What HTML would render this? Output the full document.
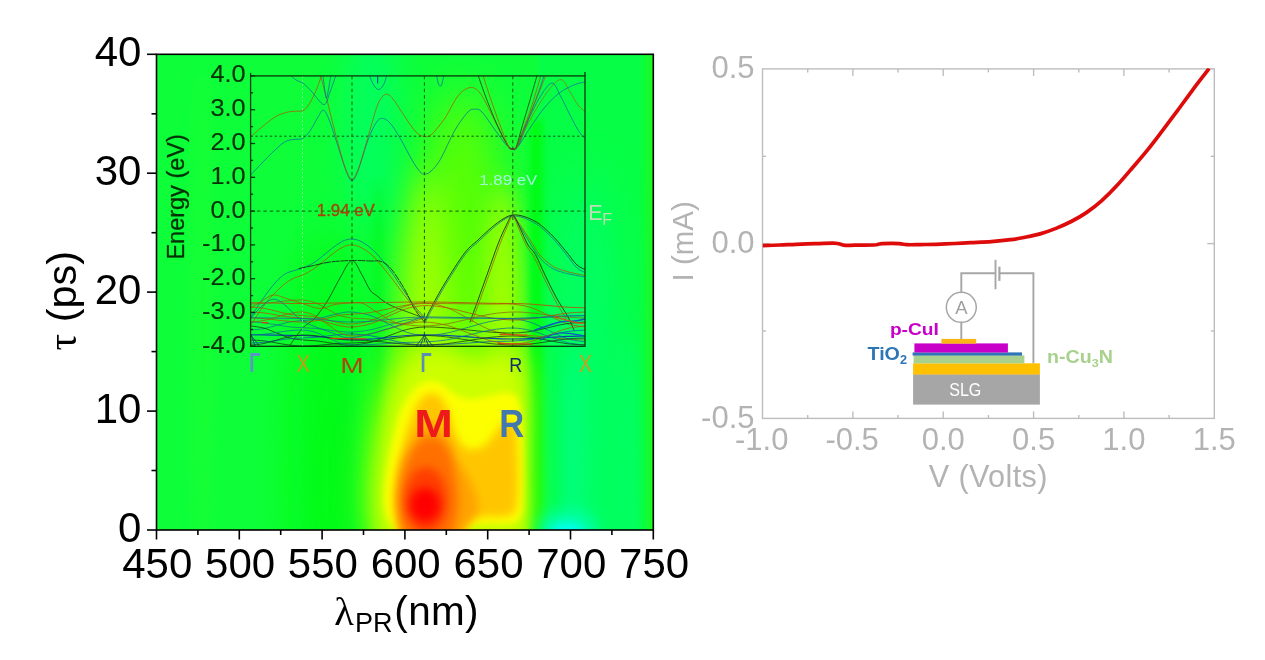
<!DOCTYPE html>
<html lang="en"><head><meta charset="utf-8"><title>Figure</title>
<style>
html,body{margin:0;padding:0;background:#fff;}
body{width:1265px;height:660px;overflow:hidden;}
svg{display:block;}
text{font-family:"Liberation Sans",sans-serif;}
.ser{font-family:"Liberation Serif",serif;}
</style></head><body>
<svg width="1265" height="660" viewBox="0 0 1265 660">

<defs>
<clipPath id="hc"><rect x="156.5" y="54.3" width="496.8" height="475.7"/></clipPath>
<filter id="b2" x="-100%" y="-100%" width="300%" height="300%"><feGaussianBlur stdDeviation="2"/></filter>
<filter id="b3" x="-100%" y="-100%" width="300%" height="300%"><feGaussianBlur stdDeviation="3"/></filter>
<filter id="b4" x="-100%" y="-100%" width="300%" height="300%"><feGaussianBlur stdDeviation="4"/></filter>
<filter id="b5" x="-100%" y="-100%" width="300%" height="300%"><feGaussianBlur stdDeviation="5"/></filter>
<filter id="b6" x="-100%" y="-100%" width="300%" height="300%"><feGaussianBlur stdDeviation="6"/></filter>
<filter id="b8" x="-100%" y="-100%" width="300%" height="300%"><feGaussianBlur stdDeviation="8"/></filter>
<filter id="b10" x="-100%" y="-100%" width="300%" height="300%"><feGaussianBlur stdDeviation="10"/></filter>
<filter id="b12" x="-100%" y="-100%" width="300%" height="300%"><feGaussianBlur stdDeviation="12"/></filter>
<filter id="b16" x="-100%" y="-100%" width="300%" height="300%"><feGaussianBlur stdDeviation="16"/></filter>
<filter id="b22" x="-100%" y="-100%" width="300%" height="300%"><feGaussianBlur stdDeviation="22"/></filter>
<filter id="b30" x="-100%" y="-100%" width="300%" height="300%"><feGaussianBlur stdDeviation="30"/></filter>
</defs>
<g clip-path="url(#hc)">
<rect x="150" y="50" width="510" height="485" fill="#0eff3a"/>
<ellipse cx="203" cy="330" rx="10" ry="260" fill="#1cff30" filter="url(#b8)" opacity="0.7"/>
<ellipse cx="326" cy="480" rx="34" ry="250" fill="#06fa0e" filter="url(#b22)" opacity="0.85"/>
<ellipse cx="462" cy="560" rx="66" ry="470" fill="#62ff04" filter="url(#b22)" opacity="0.92"/>
<ellipse cx="426" cy="540" rx="26" ry="370" fill="#b4ff00" filter="url(#b16)" opacity="0.95"/>
<ellipse cx="503" cy="540" rx="24" ry="360" fill="#acff00" filter="url(#b12)" opacity="0.95"/>
<ellipse cx="372" cy="120" rx="26" ry="110" fill="#00ff6c" filter="url(#b16)" opacity="0.75"/>
<rect x="538" y="40" width="130" height="500" fill="#06ff46"/>
<ellipse cx="586" cy="430" rx="34" ry="260" fill="#00ff6c" filter="url(#b22)" opacity="0.9"/>
<ellipse cx="574" cy="470" rx="9" ry="120" fill="#00ff84" filter="url(#b8)" opacity="0.8"/>
<ellipse cx="628" cy="470" rx="10" ry="140" fill="#00ff74" filter="url(#b10)" opacity="0.7"/>
<rect x="646" y="40" width="12" height="500" fill="#1cfa20" filter="url(#b4)"/>
<ellipse cx="346" cy="440" rx="6" ry="130" fill="#00f214" filter="url(#b6)" opacity="0.35"/>
<ellipse cx="378" cy="330" rx="6" ry="150" fill="#04f61a" filter="url(#b5)" opacity="0.7"/>
<rect x="530" y="120" width="13" height="420" fill="#00fc14" filter="url(#b3)"/>
<path d="M370.0 545.0C369.0 537.5 364.3 517.5 364.0 500.0C363.7 482.5 365.3 459.2 368.0 440.0C370.7 420.8 375.0 400.0 380.0 385.0C385.0 370.0 390.0 359.2 398.0 350.0C406.0 340.8 418.3 332.3 428.0 330.0C437.7 327.7 447.7 333.7 456.0 336.0C464.3 338.3 470.7 343.7 478.0 344.0C485.3 344.3 493.2 337.8 500.0 338.0C506.8 338.2 514.5 338.0 519.0 345.0C523.5 352.0 525.5 360.8 527.0 380.0C528.5 399.2 527.8 432.5 528.0 460.0C528.2 487.5 528.0 530.8 528.0 545.0Z" fill="#78ff00" filter="url(#b16)" opacity="0.85"/>
<path d="M378.0 545.0C377.3 537.5 374.0 515.8 374.0 500.0C374.0 484.2 375.7 466.7 378.0 450.0C380.3 433.3 384.0 414.0 388.0 400.0C392.0 386.0 395.3 375.0 402.0 366.0C408.7 357.0 419.2 348.3 428.0 346.0C436.8 343.7 446.7 349.7 455.0 352.0C463.3 354.3 470.5 360.0 478.0 360.0C485.5 360.0 493.3 352.3 500.0 352.0C506.7 351.7 513.7 351.7 518.0 358.0C522.3 364.3 524.5 373.0 526.0 390.0C527.5 407.0 526.8 434.2 527.0 460.0C527.2 485.8 527.0 530.8 527.0 545.0Z" fill="#ccff00" filter="url(#b10)"/>
<path d="M406.0 536.0C404.3 534.8 399.0 531.8 396.0 529.0C393.0 526.2 389.9 523.0 388.0 519.0C386.1 515.0 385.1 509.8 384.5 505.0C383.9 500.2 384.0 496.5 384.5 490.0C385.0 483.5 386.1 474.3 387.5 466.0C388.9 457.7 391.0 448.5 393.0 440.0C395.0 431.5 397.0 422.0 399.5 415.0C402.0 408.0 404.9 402.8 408.0 398.0C411.1 393.2 414.2 388.8 418.0 386.0C421.8 383.2 426.8 381.2 431.0 381.0C435.2 380.8 439.3 383.0 443.0 385.0C446.7 387.0 449.7 390.8 453.0 393.0C456.3 395.2 459.7 397.0 463.0 398.0C466.3 399.0 469.3 399.2 473.0 399.0C476.7 398.8 481.0 397.8 485.0 397.0C489.0 396.2 492.8 394.7 497.0 394.0C501.2 393.3 506.5 392.2 510.0 393.0C513.5 393.8 516.0 394.5 518.0 399.0C520.0 403.5 521.2 409.8 522.0 420.0C522.8 430.2 522.8 446.7 523.0 460.0C523.2 473.3 523.3 490.7 523.0 500.0C522.7 509.3 522.8 512.2 521.0 516.0C519.2 519.8 518.8 521.7 512.0 523.0C505.2 524.3 487.7 523.2 480.0 524.0C472.3 524.8 470.2 525.3 466.0 528.0C461.8 530.7 456.8 538.0 455.0 540.0Z" fill="#fcff00" filter="url(#b3)"/>
<path d="M402.0 540.0C401.0 536.7 397.3 526.7 396.0 520.0C394.7 513.3 393.8 508.3 394.0 500.0C394.2 491.7 395.3 480.0 397.0 470.0C398.7 460.0 401.5 449.2 404.0 440.0C406.5 430.8 409.3 421.7 412.0 415.0C414.7 408.3 416.8 403.7 420.0 400.0C423.2 396.3 427.3 393.2 431.0 393.0C434.7 392.8 438.8 395.3 442.0 399.0C445.2 402.7 447.7 409.0 450.0 415.0C452.3 421.0 453.3 429.5 456.0 435.0C458.7 440.5 462.0 445.8 466.0 448.0C470.0 450.2 476.0 449.3 480.0 448.0C484.0 446.7 486.8 443.3 490.0 440.0C493.2 436.7 496.0 431.3 499.0 428.0C502.0 424.7 505.3 420.5 508.0 420.0C510.7 419.5 513.5 420.8 515.0 425.0C516.5 429.2 516.5 435.8 517.0 445.0C517.5 454.2 518.2 469.5 518.0 480.0C517.8 490.5 517.7 502.0 516.0 508.0C514.3 514.0 513.7 514.5 508.0 516.0C502.3 517.5 488.7 516.0 482.0 517.0C475.3 518.0 472.0 518.2 468.0 522.0C464.0 525.8 459.7 537.0 458.0 540.0Z" fill="#ffc600" filter="url(#b4)"/>
<path d="M404.0 540.0C403.2 536.7 400.2 527.0 399.0 520.0C397.8 513.0 396.8 506.3 397.0 498.0C397.2 489.7 398.3 477.7 400.0 470.0C401.7 462.3 404.5 457.7 407.0 452.0C409.5 446.3 412.3 440.3 415.0 436.0C417.7 431.7 420.3 428.3 423.0 426.0C425.7 423.7 428.2 422.0 431.0 422.0C433.8 422.0 437.2 423.3 440.0 426.0C442.8 428.7 445.5 433.0 448.0 438.0C450.5 443.0 452.3 450.7 455.0 456.0C457.7 461.3 460.8 464.3 464.0 470.0C467.2 475.7 471.7 483.3 474.0 490.0C476.3 496.7 478.7 504.7 478.0 510.0C477.3 515.3 473.3 517.0 470.0 522.0C466.7 527.0 460.0 537.0 458.0 540.0Z" fill="#ffa200" filter="url(#b5)"/>
<path d="M406.0 540.0C405.2 536.3 402.0 525.0 401.0 518.0C400.0 511.0 399.5 505.7 400.0 498.0C400.5 490.3 402.2 479.7 404.0 472.0C405.8 464.3 408.3 457.2 411.0 452.0C413.7 446.8 416.7 443.5 420.0 441.0C423.3 438.5 427.2 436.8 431.0 437.0C434.8 437.2 439.7 438.8 443.0 442.0C446.3 445.2 448.8 449.7 451.0 456.0C453.2 462.3 454.8 471.8 456.0 480.0C457.2 488.2 458.2 497.7 458.0 505.0C457.8 512.3 456.3 518.2 455.0 524.0C453.7 529.8 450.8 537.3 450.0 540.0Z" fill="#ff7000" filter="url(#b5)"/>
<ellipse cx="426" cy="500" rx="21" ry="33" fill="#ff3c00" filter="url(#b5)"/>
<ellipse cx="425" cy="505" rx="15" ry="17" fill="#ff0600" filter="url(#b5)"/>
<ellipse cx="568" cy="532" rx="30" ry="22" fill="#00ffa8" filter="url(#b8)"/>
<ellipse cx="567" cy="532" rx="17" ry="9" fill="#00fff0" filter="url(#b5)"/>
</g>
<text x="414.3" y="436.8" font-size="38.8" font-weight="bold" fill="#ee1a1a" textLength="38.6" lengthAdjust="spacingAndGlyphs">M</text>
<text x="499.3" y="436.8" font-size="38.8" font-weight="bold" fill="#4377b0" textLength="25" lengthAdjust="spacingAndGlyphs">R</text>
<clipPath id="ic"><rect x="250.6" y="75.9" width="334.4" height="270.4"/></clipPath>
<g clip-path="url(#ic)" fill="none" stroke-width="0.75" stroke-linecap="round">
<path d="M251.0 174.6C252.8 172.7 258.0 167.1 262.0 163.0C266.0 158.9 271.1 153.6 275.0 150.0C278.9 146.4 282.2 143.3 285.5 141.5C288.8 139.7 292.2 139.8 295.0 139.3C297.8 138.8 300.0 139.9 302.5 138.5C305.0 137.1 307.4 134.6 310.0 131.0C312.6 127.4 315.8 120.5 318.0 117.0C320.2 113.5 321.3 110.3 323.0 110.3C324.7 110.3 325.8 112.0 328.0 117.0C330.2 122.0 333.2 131.5 336.0 140.0C338.8 148.5 342.8 161.7 345.0 168.0C347.2 174.3 348.0 175.9 349.2 178.0C350.4 180.1 351.1 180.8 352.0 180.8C352.9 180.8 353.6 180.1 354.8 178.0C356.0 175.9 356.8 174.3 359.0 168.0C361.2 161.7 365.2 147.5 368.0 140.0C370.8 132.5 373.7 126.6 376.0 123.0C378.3 119.4 379.7 118.3 382.0 118.3C384.3 118.3 387.0 119.7 390.0 123.0C393.0 126.3 396.3 131.8 400.0 138.0C403.7 144.2 408.7 154.4 412.0 160.0C415.3 165.6 417.9 169.5 420.0 171.8C422.1 174.1 422.7 174.0 424.4 174.0C426.1 174.0 427.4 174.3 430.0 172.0C432.6 169.7 435.8 167.0 440.0 160.0C444.2 153.0 450.3 138.0 455.0 130.0C459.7 122.0 464.7 115.5 468.0 112.0C471.3 108.5 472.5 109.2 474.8 109.2C477.1 109.2 478.6 108.5 482.0 112.0C485.4 115.5 491.2 124.8 495.0 130.0C498.8 135.2 502.6 140.5 505.0 143.5C507.4 146.5 508.2 146.9 509.5 147.8C510.8 148.7 511.7 149.0 512.8 149.0C513.9 149.0 514.8 149.1 516.1 147.8C517.4 146.5 518.2 146.5 520.5 141.0C522.8 135.5 526.8 123.8 530.0 115.0C533.2 106.2 537.5 95.2 540.0 88.0C542.5 80.8 544.2 74.7 545.0 72.0" stroke="#0a6c9c"/>
<path d="M251.0 136.5C252.8 134.9 258.0 130.2 262.0 127.0C266.0 123.8 271.1 119.4 275.0 117.0C278.9 114.6 282.2 113.6 285.5 112.6C288.8 111.6 292.2 111.5 295.0 111.2C297.8 110.9 300.3 111.7 302.5 110.8C304.7 109.9 306.1 108.6 308.0 106.0C309.9 103.4 312.0 99.3 314.0 95.0C316.0 90.7 318.7 84.2 320.0 80.0C321.3 75.8 321.7 71.7 322.0 70.0" stroke="#a45a08"/>
<path d="M319.0 70.0C320.2 74.3 323.5 86.3 326.0 96.0C328.5 105.7 331.2 117.2 334.0 128.0C336.8 138.8 340.6 153.1 343.0 161.0C345.4 168.9 347.1 172.5 348.6 175.6C350.1 178.7 350.9 179.3 352.0 179.3C353.1 179.3 353.9 178.7 355.4 175.6C356.9 172.5 358.6 168.6 361.0 161.0C363.4 153.4 367.2 139.5 370.0 130.0C372.8 120.5 375.4 109.9 378.0 104.0C380.6 98.1 383.0 95.2 385.5 94.4C388.0 93.6 389.8 95.2 393.0 99.0C396.2 102.8 401.2 111.5 405.0 117.0C408.8 122.5 412.8 128.8 416.0 132.0C419.2 135.2 421.7 136.2 424.4 136.5C427.1 136.8 428.6 137.1 432.0 134.0C435.4 130.9 440.7 124.3 445.0 118.0C449.3 111.7 453.8 101.1 458.0 96.0C462.2 90.9 466.3 88.1 470.0 87.6C473.7 87.1 476.3 88.4 480.0 93.0C483.7 97.6 488.2 107.7 492.0 115.0C495.8 122.3 500.2 131.7 503.0 137.0C505.8 142.3 507.2 144.6 508.8 146.6C510.4 148.6 511.5 149.0 512.8 149.0C514.1 149.0 515.3 149.3 516.8 146.6C518.3 143.9 519.5 139.9 522.0 133.0C524.5 126.1 528.7 115.2 532.0 105.0C535.3 94.8 540.3 77.5 542.0 72.0" stroke="#a45a08"/>
<path d="M287.0 72.0C288.5 73.3 293.2 78.1 296.0 80.0C298.8 81.9 300.9 81.5 303.6 83.5C306.3 85.5 308.6 88.5 312.0 92.0C315.4 95.5 321.0 104.6 324.0 104.6C327.0 104.6 327.8 97.4 330.0 92.0C332.2 86.6 335.8 75.3 337.0 72.0" stroke="#0a6c9c"/>
<path d="M322.5 72.0C322.9 75.3 324.4 87.7 325.0 92.0C325.6 96.3 325.9 98.0 326.4 98.0C326.9 98.0 327.1 96.3 328.0 92.0C328.9 87.7 330.9 75.3 331.5 72.0" stroke="#0a6c9c"/>
<path d="M368.5 72.0C369.2 74.0 371.3 81.1 373.0 84.0C374.7 86.9 376.8 89.6 378.6 89.6C380.4 89.6 382.5 86.9 384.0 84.0C385.5 81.1 386.9 74.0 387.5 72.0" stroke="#0a6c9c"/>
<path d="M377.6 76.0C377.6 77.2 377.6 81.8 377.6 83.0" stroke="#0858a8" stroke-width="1.2"/>
<path d="M436.0 72.0C436.4 74.0 437.6 81.8 438.5 84.0C439.4 86.2 440.5 87.0 441.5 85.0C442.5 83.0 444.0 74.2 444.5 72.0" stroke="#0a6c9c"/>
<path d="M509.0 148.2C509.6 148.4 511.5 149.6 512.8 149.4C514.1 149.2 515.0 150.7 517.0 147.0C519.0 143.3 521.2 135.3 525.0 127.0C528.8 118.7 535.5 104.3 540.0 97.0C544.5 89.7 548.7 83.3 552.0 83.0C555.3 82.7 557.0 89.7 560.0 95.0C563.0 100.3 567.0 109.2 570.0 115.0C573.0 120.8 575.5 126.0 578.0 130.0C580.5 133.9 583.8 137.2 585.0 138.7" stroke="#0a6c9c"/>
<path d="M509.0 148.2C509.6 148.4 511.4 149.8 512.8 149.4C514.2 149.0 514.6 150.9 517.5 146.0C520.4 141.1 524.9 129.2 530.0 120.0C535.1 110.8 542.8 97.7 548.0 91.0C553.2 84.3 557.3 79.4 561.0 79.6C564.7 79.8 567.2 87.8 570.0 92.0C572.8 96.2 575.5 101.8 578.0 105.0C580.5 108.2 583.8 110.4 585.0 111.5" stroke="#8a7a10"/>
<path d="M509.0 148.2C509.6 148.4 511.3 149.7 512.8 149.4C514.3 149.1 515.1 150.1 518.0 146.5C520.9 142.9 525.5 134.6 530.0 128.0C534.5 121.4 540.0 112.9 545.0 107.0C550.0 101.1 555.0 96.2 560.0 92.5C565.0 88.8 570.8 86.2 575.0 84.5C579.2 82.8 583.3 82.4 585.0 82.0" stroke="#0a6c9c"/>
<path d="M477.0 72.0C478.3 75.8 482.0 87.0 485.0 95.0C488.0 103.0 491.7 112.3 495.0 120.0C498.3 127.7 502.6 136.4 505.0 141.0C507.4 145.6 508.3 146.2 509.6 147.6C510.9 149.0 511.7 149.2 512.8 149.2C513.9 149.2 514.5 151.3 516.0 147.6C517.5 143.9 519.7 134.9 522.0 127.0C524.3 119.1 527.3 109.2 530.0 100.0C532.7 90.8 536.7 76.7 538.0 72.0" stroke="#143414"/>
<path d="M482.0 72.0C483.3 76.2 487.0 88.2 490.0 97.0C493.0 105.8 496.9 116.8 500.0 125.0C503.1 133.2 506.5 142.4 508.6 146.4C510.7 150.4 511.4 149.2 512.8 149.2C514.2 149.2 515.1 149.9 517.0 146.4C518.9 142.9 520.8 135.7 524.0 128.0C527.2 120.3 532.2 109.3 536.0 100.0C539.8 90.7 545.2 76.7 547.0 72.0" stroke="#a45a08"/>
<path d="M251.0 317.0C252.8 314.2 258.0 305.7 262.0 300.0C266.0 294.3 271.2 287.3 275.0 283.0C278.8 278.7 281.8 276.1 285.0 274.0C288.2 271.9 291.6 271.5 294.5 270.5C297.4 269.5 299.3 269.4 302.7 268.0C306.1 266.6 310.4 265.0 315.0 262.0C319.6 259.0 325.5 253.4 330.0 250.0C334.5 246.6 338.4 243.3 342.0 241.5C345.6 239.7 348.5 238.9 351.8 239.0C355.1 239.1 358.1 239.8 362.0 242.0C365.9 244.2 370.3 247.3 375.0 252.0C379.7 256.7 385.5 264.0 390.0 270.0C394.5 276.0 397.9 282.0 402.0 288.0C406.1 294.0 410.8 301.2 414.5 306.0C418.2 310.8 422.8 315.2 424.4 317.0" stroke="#0a6c9c"/>
<path d="M251.0 325.0C253.3 321.5 260.2 310.2 265.0 304.0C269.8 297.8 275.5 292.2 280.0 288.0C284.5 283.8 288.2 281.2 292.0 279.0C295.8 276.8 298.9 276.8 302.7 275.0C306.5 273.2 310.4 271.2 315.0 268.0C319.6 264.8 325.5 259.4 330.0 256.0C334.5 252.6 338.4 249.3 342.0 247.5C345.6 245.7 348.5 244.9 351.8 245.0C355.1 245.1 358.1 245.8 362.0 248.0C365.9 250.2 370.3 253.3 375.0 258.0C379.7 262.7 385.0 269.7 390.0 276.0C395.0 282.3 400.3 290.0 405.0 296.0C409.7 302.0 414.8 308.3 418.0 312.0C421.2 315.7 423.3 317.0 424.4 318.0" stroke="#a45a08"/>
<path d="M299.0 268.5C301.4 268.0 308.4 266.6 313.6 265.5C318.8 264.4 323.6 262.8 330.0 262.0C336.4 261.2 345.1 260.7 351.8 260.5C358.5 260.3 365.0 260.8 370.0 261.0C375.0 261.2 378.1 260.1 381.8 261.6C385.5 263.1 388.1 265.3 392.0 270.0C395.9 274.7 401.2 283.5 405.0 290.0C408.8 296.5 411.3 303.7 414.5 309.0C417.7 314.3 422.8 319.8 424.4 322.0" stroke="#143414" stroke-width="0.9" stroke-dasharray="7 1.5"/>
<path d="M290.0 345.0C292.1 342.2 298.5 332.5 302.7 328.0C306.9 323.5 310.8 322.7 315.0 318.0C319.2 313.3 323.8 306.7 328.0 300.0C332.2 293.3 336.0 284.6 340.0 278.0C344.0 271.4 348.1 261.0 351.8 260.5C355.5 260.0 359.0 270.1 362.0 275.0C365.0 279.9 367.6 286.6 370.0 290.0C372.4 293.4 373.1 293.0 376.4 295.5C379.7 298.0 383.6 301.8 390.0 305.0C396.4 308.2 408.8 312.3 414.5 314.5C420.2 316.7 422.8 317.4 424.4 318.0" stroke="#143414"/>
<path d="M424.4 322.0C425.4 319.8 427.1 315.5 430.5 309.0C433.9 302.5 439.3 292.3 445.0 283.0C450.7 273.7 459.0 260.4 464.5 253.2C470.0 246.0 473.4 244.3 478.0 240.0C482.6 235.7 487.6 230.8 491.8 227.3C496.0 223.8 499.5 221.1 503.0 219.0C506.5 216.9 509.3 215.4 512.8 215.0C516.3 214.6 520.0 215.3 524.0 216.5C528.0 217.7 532.9 220.0 536.6 222.2C540.3 224.4 543.0 226.9 546.0 229.5C549.0 232.1 551.8 235.0 554.5 237.8C557.2 240.6 559.7 243.7 562.0 246.5C564.3 249.3 566.0 251.4 568.5 254.5C571.0 257.6 574.2 262.5 577.0 265.0C579.8 267.5 583.7 268.8 585.0 269.5" stroke="#143414" stroke-width="0.9"/>
<path d="M424.4 324.0C425.6 321.7 427.9 316.7 431.5 310.0C435.1 303.3 440.3 293.3 446.0 284.0C451.7 274.7 460.0 261.4 465.5 254.2C471.0 247.0 474.4 245.3 479.0 241.0C483.6 236.7 488.7 231.8 492.8 228.3C496.9 224.8 500.2 222.1 503.5 220.0C506.8 217.9 509.4 216.3 512.8 216.0C516.2 215.7 520.0 216.6 524.0 218.0C528.0 219.4 532.9 221.9 536.6 224.2C540.3 226.5 543.0 229.1 546.0 231.8C549.0 234.5 551.8 237.4 554.5 240.3C557.2 243.2 559.7 246.3 562.0 249.2C564.3 252.0 566.0 254.3 568.5 257.4C571.0 260.5 574.2 265.5 577.0 268.0C579.8 270.5 583.7 271.8 585.0 272.5" stroke="#0a6c9c"/>
<path d="M512.8 215.0C514.2 216.8 518.1 221.8 521.0 226.0C523.9 230.2 526.8 235.2 530.0 240.0C533.2 244.8 536.4 250.8 540.0 255.0C543.6 259.2 547.6 262.8 551.8 265.5C556.0 268.2 559.5 269.3 565.0 271.0C570.5 272.7 581.7 274.8 585.0 275.5" stroke="#a45a08"/>
<path d="M512.8 215.5C514.2 217.6 518.1 223.4 521.0 228.0C523.9 232.6 526.8 238.0 530.0 243.0C533.2 248.0 536.4 253.8 540.0 258.0C543.6 262.2 547.6 265.5 551.8 268.0C556.0 270.5 559.5 271.5 565.0 273.0C570.5 274.5 581.7 276.3 585.0 277.0" stroke="#0a6c9c"/>
<path d="M470.0 322.0C471.3 318.3 475.0 308.3 478.0 300.0C481.0 291.7 484.7 281.3 488.0 272.0C491.3 262.7 495.0 251.7 498.0 244.0C501.0 236.3 503.5 230.8 506.0 226.0C508.5 221.2 510.5 214.7 512.8 215.0C515.1 215.3 517.5 223.0 520.0 228.0C522.5 233.0 525.4 240.6 528.0 245.0C530.6 249.4 532.6 249.5 535.4 254.5C538.2 259.5 541.6 267.9 545.0 275.0C548.4 282.1 552.2 290.0 556.0 297.0C559.8 304.0 565.0 311.5 568.0 317.0C571.0 322.5 573.0 327.8 574.0 330.0" stroke="#143414" stroke-width="0.9"/>
<path d="M472.0 322.0C473.3 318.3 477.0 308.3 480.0 300.0C483.0 291.7 486.7 281.3 490.0 272.0C493.3 262.7 497.1 251.7 500.0 244.0C502.9 236.3 505.4 230.7 507.5 226.0C509.6 221.3 511.0 215.7 512.8 216.0C514.6 216.3 516.2 223.0 518.5 228.0C520.8 233.0 523.9 241.2 526.5 246.0C529.1 250.8 531.2 251.8 534.0 257.0C536.8 262.2 540.1 270.0 543.5 277.0C546.9 284.0 550.8 292.0 554.5 299.0C558.2 306.0 564.1 315.7 566.0 319.0" stroke="#a45a08"/>
<path d="M251.0 302.8C253.1 302.8 259.6 302.8 263.9 302.9C268.2 303.0 272.5 303.1 276.8 303.1C281.0 303.2 285.3 303.3 289.6 303.4C293.9 303.5 298.3 303.5 302.5 303.5C306.7 303.5 310.8 303.5 314.9 303.4C319.0 303.3 323.1 303.2 327.2 303.2C331.4 303.1 335.5 303.0 339.6 302.9C343.8 302.8 346.9 302.8 352.0 302.8C357.1 302.8 364.1 302.7 370.1 302.7C376.1 302.6 382.2 302.5 388.2 302.4C394.2 302.3 400.3 302.2 406.3 302.1C412.3 302.1 417.7 302.0 424.4 302.0C431.1 302.0 439.1 302.1 446.5 302.2C453.9 302.3 461.2 302.6 468.6 302.8C476.0 302.9 483.3 303.2 490.7 303.3C498.1 303.4 506.1 303.4 512.8 303.5C519.5 303.6 524.8 303.8 530.8 304.1C536.9 304.5 542.9 305.1 548.9 305.6C554.9 306.2 560.9 306.8 567.0 307.2C573.0 307.5 582.0 307.7 585.0 307.8" stroke="#b4520c" stroke-width="0.9"/>
<path d="M251.0 307.0C253.1 307.2 259.6 307.5 263.9 308.3C268.2 309.0 272.5 310.3 276.8 311.3C281.0 312.3 285.3 313.6 289.6 314.3C293.9 315.1 298.3 315.2 302.5 315.6C306.7 316.0 310.8 316.1 314.9 316.8C319.0 317.5 323.1 318.8 327.2 319.8C331.4 320.8 335.5 322.1 339.6 322.8C343.8 323.5 346.9 324.3 352.0 324.0C357.1 323.7 364.1 322.7 370.1 320.9C376.1 319.1 382.2 315.9 388.2 313.4C394.2 310.9 400.3 307.7 406.3 305.9C412.3 304.1 417.7 302.5 424.4 302.8C431.1 303.1 439.1 304.8 446.5 307.5C453.9 310.2 461.2 315.0 468.6 318.8C476.0 322.6 483.3 327.4 490.7 330.1C498.1 332.8 506.1 333.9 512.8 334.8C519.5 335.7 524.8 335.1 530.8 335.6C536.9 336.0 542.9 336.8 548.9 337.4C554.9 338.0 560.9 338.8 567.0 339.2C573.0 339.7 582.0 339.9 585.0 340.0" stroke="#a45a08"/>
<path d="M251.0 330.0C253.1 329.8 259.6 329.4 263.9 328.6C268.2 327.8 272.5 326.4 276.8 325.3C281.0 324.2 285.3 322.8 289.6 322.0C293.9 321.2 298.3 321.0 302.5 320.6C306.7 320.2 310.8 320.1 314.9 319.3C319.0 318.6 323.1 317.3 327.2 316.3C331.4 315.3 335.5 314.0 339.6 313.3C343.8 312.5 346.9 311.6 352.0 312.0C357.1 312.4 364.1 313.5 370.1 315.4C376.1 317.4 382.2 321.0 388.2 323.8C394.2 326.5 400.3 330.1 406.3 332.1C412.3 334.0 417.7 335.3 424.4 335.5C431.1 335.7 439.1 334.5 446.5 333.1C453.9 331.7 461.2 329.2 468.6 327.2C476.0 325.3 483.3 322.8 490.7 321.4C498.1 320.0 506.1 318.8 512.8 319.0C519.5 319.2 524.8 320.5 530.8 322.4C536.9 324.3 542.9 327.8 548.9 330.5C554.9 333.2 560.9 336.7 567.0 338.6C573.0 340.5 582.0 341.4 585.0 342.0" stroke="#0a6c9c"/>
<path d="M251.0 318.0C253.1 318.1 259.6 318.3 263.9 318.6C268.2 318.9 272.5 319.5 276.8 320.0C281.0 320.5 285.3 321.1 289.6 321.4C293.9 321.7 298.3 322.1 302.5 322.0C306.7 321.9 310.8 321.5 314.9 320.9C319.0 320.2 323.1 319.0 327.2 318.1C331.4 317.2 335.5 316.0 339.6 315.3C343.8 314.7 346.9 314.7 352.0 314.2C357.1 313.7 364.1 313.5 370.1 312.6C376.1 311.7 382.2 310.1 388.2 308.9C394.2 307.6 400.3 306.0 406.3 305.1C412.3 304.2 417.7 303.7 424.4 303.5C431.1 303.3 439.1 303.5 446.5 303.6C453.9 303.7 461.2 303.8 468.6 303.8C476.0 303.9 483.3 304.0 490.7 304.1C498.1 304.2 506.1 303.6 512.8 304.2C519.5 304.8 524.8 305.6 530.8 307.5C536.9 309.4 542.9 312.9 548.9 315.6C554.9 318.3 560.9 321.8 567.0 323.7C573.0 325.6 582.0 326.4 585.0 327.0" stroke="#a45a08"/>
<path d="M251.0 312.0C253.1 312.1 259.6 312.4 263.9 312.9C268.2 313.4 272.5 314.3 276.8 315.0C281.0 315.7 285.3 316.6 289.6 317.1C293.9 317.6 298.3 317.6 302.5 318.0C306.7 318.4 310.8 318.6 314.9 319.3C319.0 320.1 323.1 321.4 327.2 322.5C331.4 323.6 335.5 324.9 339.6 325.7C343.8 326.4 346.9 327.3 352.0 327.0C357.1 326.7 364.1 325.6 370.1 323.9C376.1 322.1 382.2 318.8 388.2 316.3C394.2 313.8 400.3 310.5 406.3 308.7C412.3 307.0 417.7 305.8 424.4 305.6C431.1 305.4 439.1 306.5 446.5 307.7C453.9 308.9 461.2 311.1 468.6 312.8C476.0 314.5 483.3 316.7 490.7 317.9C498.1 319.1 506.1 319.8 512.8 320.0C519.5 320.2 524.8 319.5 530.8 318.8C536.9 318.2 542.9 316.9 548.9 316.0C554.9 315.1 560.9 313.8 567.0 313.2C573.0 312.5 582.0 312.2 585.0 312.0" stroke="#b8480c"/>
<path d="M251.0 334.8C253.1 334.8 259.6 334.8 263.9 334.9C268.2 335.0 272.5 335.1 276.8 335.1C281.0 335.2 285.3 335.3 289.6 335.4C293.9 335.5 298.3 335.4 302.5 335.5C306.7 335.6 310.8 335.8 314.9 336.1C319.0 336.5 323.1 337.1 327.2 337.6C331.4 338.2 335.5 338.8 339.6 339.2C343.8 339.5 346.9 339.8 352.0 339.8C357.1 339.8 364.1 339.5 370.1 339.1C376.1 338.7 382.2 337.9 388.2 337.3C394.2 336.7 400.3 335.9 406.3 335.5C412.3 335.1 417.7 334.8 424.4 334.8C431.1 334.8 439.1 335.1 446.5 335.4C453.9 335.8 461.2 336.4 468.6 336.9C476.0 337.4 483.3 338.0 490.7 338.4C498.1 338.7 506.1 339.0 512.8 339.0C519.5 339.0 524.8 338.8 530.8 338.6C536.9 338.3 542.9 337.9 548.9 337.5C554.9 337.1 560.9 336.7 567.0 336.4C573.0 336.2 582.0 336.1 585.0 336.0" stroke="#0a4aa8" stroke-width="1.1"/>
<path d="M251.0 322.0C253.1 322.1 259.6 322.4 263.9 322.8C268.2 323.3 272.5 324.2 276.8 324.8C281.0 325.5 285.3 326.4 289.6 326.9C293.9 327.3 298.3 327.5 302.5 327.7C306.7 327.9 310.8 328.0 314.9 328.3C319.0 328.7 323.1 329.3 327.2 329.8C331.4 330.4 335.5 331.0 339.6 331.4C343.8 331.7 346.9 332.2 352.0 332.0C357.1 331.8 364.1 331.1 370.1 329.9C376.1 328.8 382.2 326.6 388.2 325.0C394.2 323.4 400.3 321.2 406.3 320.1C412.3 318.9 417.7 318.3 424.4 318.0C431.1 317.7 439.1 318.0 446.5 318.1C453.9 318.1 461.2 318.2 468.6 318.2C476.0 318.2 483.3 318.3 490.7 318.3C498.1 318.4 506.1 318.5 512.8 318.4C519.5 318.3 524.8 318.2 530.8 318.0C536.9 317.8 542.9 317.3 548.9 317.0C554.9 316.7 560.9 316.2 567.0 316.0C573.0 315.8 582.0 315.7 585.0 315.6" stroke="#0a7a8c"/>
<path d="M251.0 317.7C253.1 317.7 259.6 317.8 263.9 317.8C268.2 317.9 272.5 318.0 276.8 318.1C281.0 318.2 285.3 318.3 289.6 318.4C293.9 318.4 298.3 318.4 302.5 318.5C306.7 318.6 310.8 318.7 314.9 319.0C319.0 319.3 323.1 319.8 327.2 320.2C331.4 320.7 335.5 321.2 339.6 321.5C343.8 321.8 346.9 322.0 352.0 322.0C357.1 322.0 364.1 321.7 370.1 321.3C376.1 320.9 382.2 320.1 388.2 319.5C394.2 318.9 400.3 318.1 406.3 317.7C412.3 317.3 417.7 317.1 424.4 317.0C431.1 316.9 439.1 317.1 446.5 317.2C453.9 317.3 461.2 317.5 468.6 317.7C476.0 317.9 483.3 318.1 490.7 318.2C498.1 318.3 506.1 318.4 512.8 318.4C519.5 318.4 524.8 318.2 530.8 318.0C536.9 317.8 542.9 317.3 548.9 317.0C554.9 316.7 560.9 316.2 567.0 316.0C573.0 315.8 582.0 315.7 585.0 315.6" stroke="#0a6c9c"/>
<path d="M251.0 340.0C253.1 340.1 259.6 340.4 263.9 340.9C268.2 341.4 272.5 342.3 276.8 343.0C281.0 343.7 285.3 344.6 289.6 345.1C293.9 345.6 298.3 345.9 302.5 346.0C306.7 346.1 310.8 345.8 314.9 345.6C319.0 345.3 323.1 344.9 327.2 344.5C331.4 344.1 335.5 343.7 339.6 343.4C343.8 343.2 346.9 343.3 352.0 343.0C357.1 342.7 364.1 342.5 370.1 341.9C376.1 341.3 382.2 340.1 388.2 339.2C394.2 338.4 400.3 337.2 406.3 336.6C412.3 336.0 417.7 335.5 424.4 335.5C431.1 335.5 439.1 336.1 446.5 336.9C453.9 337.7 461.2 339.1 468.6 340.2C476.0 341.4 483.3 342.8 490.7 343.6C498.1 344.4 506.1 344.9 512.8 345.0C519.5 345.1 524.8 344.6 530.8 344.0C536.9 343.4 542.9 342.3 548.9 341.5C554.9 340.7 560.9 339.6 567.0 339.0C573.0 338.4 582.0 338.2 585.0 338.0" stroke="#143414"/>
<path d="M251.0 326.0C253.1 326.3 259.6 326.9 263.9 328.1C268.2 329.2 272.5 331.4 276.8 333.0C281.0 334.6 285.3 336.8 289.6 337.9C293.9 339.1 298.3 339.5 302.5 340.0C306.7 340.5 310.8 340.3 314.9 340.7C319.0 341.1 323.1 341.9 327.2 342.5C331.4 343.1 335.5 343.9 339.6 344.3C343.8 344.7 346.9 345.3 352.0 345.0C357.1 344.7 364.1 343.9 370.1 342.4C376.1 340.9 382.2 338.1 388.2 336.0C394.2 333.9 400.3 331.1 406.3 329.6C412.3 328.1 417.7 327.3 424.4 327.0C431.1 326.7 439.1 327.4 446.5 327.9C453.9 328.4 461.2 329.3 468.6 330.0C476.0 330.7 483.3 331.6 490.7 332.1C498.1 332.6 506.1 333.1 512.8 333.0C519.5 332.9 524.8 332.3 530.8 331.4C536.9 330.5 542.9 328.8 548.9 327.5C554.9 326.2 560.9 324.5 567.0 323.6C573.0 322.7 582.0 322.3 585.0 322.0" stroke="#143414"/>
<path d="M251.0 335.0C253.1 334.9 259.6 334.7 263.9 334.3C268.2 333.9 272.5 333.1 276.8 332.5C281.0 331.9 285.3 331.1 289.6 330.7C293.9 330.3 298.3 329.8 302.5 330.0C306.7 330.2 310.8 330.9 314.9 332.2C319.0 333.4 323.1 335.7 327.2 337.5C331.4 339.3 335.5 341.6 339.6 342.8C343.8 344.1 346.9 344.7 352.0 345.0C357.1 345.3 364.1 344.8 370.1 344.6C376.1 344.3 382.2 343.9 388.2 343.5C394.2 343.1 400.3 342.7 406.3 342.4C412.3 342.2 417.7 342.4 424.4 342.0C431.1 341.6 439.1 341.1 446.5 339.9C453.9 338.8 461.2 336.6 468.6 335.0C476.0 333.4 483.3 331.2 490.7 330.1C498.1 328.9 506.1 327.9 512.8 328.0C519.5 328.1 524.8 329.1 530.8 330.5C536.9 331.9 542.9 334.5 548.9 336.5C554.9 338.5 560.9 341.1 567.0 342.5C573.0 343.9 582.0 344.6 585.0 345.0" stroke="#0a6c9c"/>
<path d="M251.0 343.0C253.1 342.9 259.6 342.7 263.9 342.3C268.2 341.9 272.5 341.1 276.8 340.5C281.0 339.9 285.3 339.1 289.6 338.7C293.9 338.3 298.3 338.2 302.5 338.0C306.7 337.8 310.8 337.7 314.9 337.4C319.0 337.1 323.1 336.5 327.2 336.0C331.4 335.5 335.5 334.9 339.6 334.6C343.8 334.3 346.9 333.8 352.0 334.0C357.1 334.2 364.1 334.7 370.1 335.6C376.1 336.5 382.2 338.2 388.2 339.5C394.2 340.8 400.3 342.5 406.3 343.4C412.3 344.3 417.7 344.8 424.4 345.0C431.1 345.2 439.1 344.7 446.5 344.4C453.9 344.1 461.2 343.5 468.6 343.0C476.0 342.5 483.3 341.9 490.7 341.6C498.1 341.3 506.1 341.4 512.8 341.0C519.5 340.6 524.8 340.3 530.8 339.4C536.9 338.5 542.9 336.8 548.9 335.5C554.9 334.2 560.9 332.5 567.0 331.6C573.0 330.7 582.0 330.3 585.0 330.0" stroke="#0a58b0"/>
<path d="M251.0 322.0C253.1 321.8 259.6 321.4 263.9 320.5C268.2 319.7 272.5 318.2 276.8 317.0C281.0 315.8 285.3 314.3 289.6 313.5C293.9 312.6 298.3 311.7 302.5 312.0C306.7 312.3 310.8 313.5 314.9 315.5C319.0 317.5 323.1 321.2 327.2 324.0C331.4 326.8 335.5 330.5 339.6 332.5C343.8 334.5 346.9 335.8 352.0 336.0C357.1 336.2 364.1 335.1 370.1 333.9C376.1 332.8 382.2 330.6 388.2 329.0C394.2 327.4 400.3 325.2 406.3 324.1C412.3 322.9 417.7 321.8 424.4 322.0C431.1 322.2 439.1 323.4 446.5 325.2C453.9 327.1 461.2 330.4 468.6 333.0C476.0 335.6 483.3 338.9 490.7 340.8C498.1 342.6 506.1 343.9 512.8 344.0C519.5 344.1 524.8 342.9 530.8 341.4C536.9 339.9 542.9 337.1 548.9 335.0C554.9 332.9 560.9 330.1 567.0 328.6C573.0 327.1 582.0 326.4 585.0 326.0" stroke="#a45a08"/>
<path d="M251.0 345.0C253.1 344.8 259.6 344.4 263.9 343.5C268.2 342.7 272.5 341.2 276.8 340.0C281.0 338.8 285.3 337.3 289.6 336.5C293.9 335.6 298.3 335.1 302.5 335.0C306.7 334.9 310.8 335.3 314.9 335.7C319.0 336.1 323.1 336.9 327.2 337.5C331.4 338.1 335.5 338.9 339.6 339.3C343.8 339.7 346.9 339.8 352.0 340.0C357.1 340.2 364.1 340.3 370.1 340.7C376.1 341.1 382.2 341.9 388.2 342.5C394.2 343.1 400.3 343.9 406.3 344.3C412.3 344.7 417.7 345.1 424.4 345.0C431.1 344.9 439.1 344.4 446.5 343.7C453.9 342.9 461.2 341.6 468.6 340.5C476.0 339.4 483.3 338.1 490.7 337.3C498.1 336.6 506.1 336.0 512.8 336.0C519.5 336.0 524.8 336.6 530.8 337.3C536.9 338.1 542.9 339.4 548.9 340.5C554.9 341.6 560.9 342.9 567.0 343.7C573.0 344.4 582.0 344.8 585.0 345.0" stroke="#143414"/>
<path d="M251.0 304.0C253.1 303.9 259.6 303.7 263.9 303.4C268.2 303.1 272.5 302.5 276.8 302.0C281.0 301.5 285.3 300.9 289.6 300.6C293.9 300.3 298.3 299.7 302.5 300.0C306.7 300.3 310.8 301.1 314.9 302.6C319.0 304.1 323.1 306.9 327.2 309.0C331.4 311.1 335.5 313.9 339.6 315.4C343.8 316.9 346.9 317.4 352.0 318.0C357.1 318.6 364.1 318.5 370.1 319.2C376.1 319.8 382.2 321.1 388.2 322.0C394.2 322.9 400.3 324.2 406.3 324.8C412.3 325.5 417.7 326.1 424.4 326.0C431.1 325.9 439.1 325.1 446.5 323.9C453.9 322.8 461.2 320.6 468.6 319.0C476.0 317.4 483.3 315.2 490.7 314.1C498.1 312.9 506.1 312.2 512.8 312.0C519.5 311.8 524.8 312.4 530.8 312.9C536.9 313.4 542.9 314.3 548.9 315.0C554.9 315.7 560.9 316.6 567.0 317.1C573.0 317.6 582.0 317.9 585.0 318.0" stroke="#8a6a10"/>
<path d="M251.0 317.7C252.8 315.8 258.3 309.1 262.0 306.0C265.7 302.9 269.6 299.4 273.4 299.2C277.2 299.0 280.2 301.4 285.0 305.0C289.8 308.6 294.5 316.1 302.0 320.6C309.5 325.1 321.7 329.2 330.0 332.0C338.3 334.8 342.0 338.3 352.0 337.6C362.0 336.9 377.9 331.6 390.0 328.0C402.1 324.4 418.7 318.2 424.4 316.3" stroke="#0a6c9c"/>
<path d="M251.0 308.0C252.8 306.8 258.3 303.2 262.0 301.0C265.7 298.8 269.1 295.3 273.4 295.0C277.7 294.7 283.1 297.6 288.0 299.0C292.9 300.4 297.2 301.9 302.5 303.5C307.8 305.1 314.6 308.3 320.0 308.5C325.4 308.7 329.7 305.4 335.0 304.5C340.3 303.6 347.3 303.0 352.0 302.8C356.7 302.6 359.2 302.0 363.0 303.4C366.8 304.8 370.2 308.1 375.0 311.0C379.8 313.9 387.0 318.9 392.0 321.0C397.0 323.1 399.6 323.9 405.0 323.4C410.4 322.9 421.2 318.9 424.4 318.0" stroke="#a45a08"/>
<path d="M330.0 338.4C336.0 338.5 360.0 338.7 366.0 338.8" stroke="#d04010" stroke-width="1.2"/>
<path d="M500.0 334.6C504.5 334.7 522.5 334.9 527.0 335.0" stroke="#d84810" stroke-width="1.2"/>
<path d="M498.0 343.6C503.7 343.7 526.3 344.1 532.0 344.2" stroke="#c84010" stroke-width="1.2"/>
<path d="M535.0 330.0C539.2 328.7 553.3 323.5 560.0 322.0C566.7 320.5 570.8 321.5 575.0 321.0C579.2 320.5 583.3 319.3 585.0 319.0" stroke="#0a58c0" stroke-width="1.4"/>
<path d="M540.0 340.0C543.3 338.8 552.5 333.7 560.0 333.0C567.5 332.3 580.8 335.5 585.0 336.0" stroke="#0a58c0" stroke-width="1.2"/>
<path d="M262.0 322.6C263.0 322.6 267.0 322.8 268.0 322.8" stroke="#d04010" stroke-width="1.2"/>
<path d="M555.0 317.0C558.3 317.9 570.0 321.5 575.0 322.5C580.0 323.5 583.3 322.9 585.0 323.0" stroke="#d05010" stroke-width="1.3"/>
<path d="M251.0 335.2C249.5 337.2 243.5 345.0 242.0 347.0" stroke="#0a3a6a" stroke-width="0.8"/>
<path d="M251.0 335.2C250.2 337.2 247.2 345.0 246.5 347.0" stroke="#0a3a6a" stroke-width="0.8"/>
<path d="M251.0 335.2C251.8 337.2 254.8 345.0 255.5 347.0" stroke="#0a3a6a" stroke-width="0.8"/>
<path d="M251.0 335.2C252.5 337.2 258.5 345.0 260.0 347.0" stroke="#0a3a6a" stroke-width="0.8"/>
<path d="M424.4 335.2C422.9 337.2 416.9 345.0 415.4 347.0" stroke="#0a3a6a" stroke-width="0.8"/>
<path d="M424.4 335.2C423.6 337.2 420.6 345.0 419.9 347.0" stroke="#0a3a6a" stroke-width="0.8"/>
<path d="M424.4 335.2C425.1 337.2 428.1 345.0 428.9 347.0" stroke="#0a3a6a" stroke-width="0.8"/>
<path d="M424.4 335.2C425.9 337.2 431.9 345.0 433.4 347.0" stroke="#0a3a6a" stroke-width="0.8"/>
</g>
<g fill="none" stroke="#0a4a0a" stroke-width="0.9" stroke-dasharray="3.4 3">
<line x1="250.6" y1="211.1" x2="586.0" y2="211.1"/>
<line x1="250.6" y1="136.2" x2="585.0" y2="136.2" stroke-dasharray="2.4 2.4" stroke-width="0.9"/>
<line x1="352.0" y1="75.9" x2="352.0" y2="346.3"/>
<line x1="424.4" y1="75.9" x2="424.4" y2="346.3"/>
<line x1="512.8" y1="75.9" x2="512.8" y2="346.3"/>
</g>
<line x1="302.5" y1="75.9" x2="302.5" y2="346.3" stroke="#b4ffb0" stroke-width="0.7" stroke-dasharray="2 2" opacity="0.8"/>
<g fill="none" stroke="#063806" stroke-width="1.3">
<rect x="250.6" y="75.9" width="334.4" height="270.4"/>
<line x1="585.0" y1="71.9" x2="585.0" y2="75.9"/>
<line x1="250.6" y1="72.9" x2="250.6" y2="75.9"/>
<line x1="250.6" y1="75.9" x2="255.1" y2="75.9"/>
<line x1="250.6" y1="92.8" x2="253.1" y2="92.8"/>
<line x1="250.6" y1="109.7" x2="255.1" y2="109.7"/>
<line x1="250.6" y1="126.6" x2="253.1" y2="126.6"/>
<line x1="250.6" y1="143.5" x2="255.1" y2="143.5"/>
<line x1="250.6" y1="160.4" x2="253.1" y2="160.4"/>
<line x1="250.6" y1="177.3" x2="255.1" y2="177.3"/>
<line x1="250.6" y1="194.2" x2="253.1" y2="194.2"/>
<line x1="250.6" y1="211.1" x2="255.1" y2="211.1"/>
<line x1="250.6" y1="228.0" x2="253.1" y2="228.0"/>
<line x1="250.6" y1="244.9" x2="255.1" y2="244.9"/>
<line x1="250.6" y1="261.8" x2="253.1" y2="261.8"/>
<line x1="250.6" y1="278.7" x2="255.1" y2="278.7"/>
<line x1="250.6" y1="295.6" x2="253.1" y2="295.6"/>
<line x1="250.6" y1="312.5" x2="255.1" y2="312.5"/>
<line x1="250.6" y1="329.4" x2="253.1" y2="329.4"/>
<line x1="250.6" y1="346.3" x2="255.1" y2="346.3"/>
</g>
<g font-size="23.6" fill="#043004" stroke="#043004" stroke-width="0.12">
<text x="210.4" y="82.3" textLength="35.2" lengthAdjust="spacingAndGlyphs">4.0</text>
<text x="210.4" y="116.1" textLength="35.2" lengthAdjust="spacingAndGlyphs">3.0</text>
<text x="210.4" y="149.9" textLength="35.2" lengthAdjust="spacingAndGlyphs">2.0</text>
<text x="210.4" y="183.7" textLength="35.2" lengthAdjust="spacingAndGlyphs">1.0</text>
<text x="210.4" y="217.5" textLength="35.2" lengthAdjust="spacingAndGlyphs">0.0</text>
<text x="202.0" y="251.3" textLength="43.6" lengthAdjust="spacingAndGlyphs">-1.0</text>
<text x="202.0" y="285.1" textLength="43.6" lengthAdjust="spacingAndGlyphs">-2.0</text>
<text x="202.0" y="318.9" textLength="43.6" lengthAdjust="spacingAndGlyphs">-3.0</text>
<text x="202.0" y="352.7" textLength="43.6" lengthAdjust="spacingAndGlyphs">-4.0</text>
</g>
<text transform="translate(183.6,259.6) rotate(-90)" font-size="23.5" fill="#043004" stroke="#043004" stroke-width="0.3">Energy (eV)</text>
<text x="316.8" y="215.7" font-size="16.4" fill="#a8420a" stroke="#a8420a" stroke-width="0.3" textLength="58" lengthAdjust="spacingAndGlyphs">1.94 eV</text>
<text x="479.3" y="185.4" font-size="14.5" fill="#a2f8dc" textLength="58" lengthAdjust="spacingAndGlyphs">1.89 eV</text>
<text x="588.3" y="220.3" font-size="21.5" fill="#d0dcc0" opacity="0.9">E<tspan font-size="16" dy="4.5" dx="-0.5">F</tspan></text>
<g>
<text x="249.2" y="371.6" fill="#5a94c8" font-weight="bold" font-size="28" textLength="11" lengthAdjust="spacingAndGlyphs">Γ</text>
<text x="296.6" y="371.6" fill="#c89a14" font-size="23.2" textLength="13.4" lengthAdjust="spacingAndGlyphs">X</text>
<text x="340.2" y="372.9" fill="#b0440a" font-size="22.8" textLength="23.4" lengthAdjust="spacingAndGlyphs">M</text>
<text x="420.4" y="372.2" fill="#5a8cb8" font-weight="bold" font-size="28.5" textLength="11" lengthAdjust="spacingAndGlyphs">Γ</text>
<text x="509.3" y="371.6" fill="#142e70" font-size="21" textLength="13" lengthAdjust="spacingAndGlyphs">R</text>
<text x="578.7" y="371.6" fill="#c8a020" font-size="23.2" textLength="13.4" lengthAdjust="spacingAndGlyphs">X</text>
</g>
<g stroke="#000" stroke-width="1.6" fill="none">
<rect x="156.5" y="54.3" width="496.8" height="475.7"/>
<line x1="156.5" y1="530.0" x2="156.5" y2="539.5"/>
<line x1="197.9" y1="530.0" x2="197.9" y2="535.0"/>
<line x1="239.3" y1="530.0" x2="239.3" y2="539.5"/>
<line x1="280.7" y1="530.0" x2="280.7" y2="535.0"/>
<line x1="322.1" y1="530.0" x2="322.1" y2="539.5"/>
<line x1="363.5" y1="530.0" x2="363.5" y2="535.0"/>
<line x1="404.9" y1="530.0" x2="404.9" y2="539.5"/>
<line x1="446.3" y1="530.0" x2="446.3" y2="535.0"/>
<line x1="487.7" y1="530.0" x2="487.7" y2="539.5"/>
<line x1="529.1" y1="530.0" x2="529.1" y2="535.0"/>
<line x1="570.5" y1="530.0" x2="570.5" y2="539.5"/>
<line x1="611.9" y1="530.0" x2="611.9" y2="535.0"/>
<line x1="653.3" y1="530.0" x2="653.3" y2="539.5"/>
<line x1="147.0" y1="530.0" x2="156.5" y2="530.0"/>
<line x1="151.5" y1="470.5" x2="156.5" y2="470.5"/>
<line x1="147.0" y1="411.1" x2="156.5" y2="411.1"/>
<line x1="151.5" y1="351.6" x2="156.5" y2="351.6"/>
<line x1="147.0" y1="292.1" x2="156.5" y2="292.1"/>
<line x1="151.5" y1="232.7" x2="156.5" y2="232.7"/>
<line x1="147.0" y1="173.2" x2="156.5" y2="173.2"/>
<line x1="151.5" y1="113.8" x2="156.5" y2="113.8"/>
<line x1="147.0" y1="54.3" x2="156.5" y2="54.3"/>
</g>
<g font-size="42" fill="#000">
<text x="157.3" y="577.6" text-anchor="middle">450</text>
<text x="240.1" y="577.6" text-anchor="middle">500</text>
<text x="322.9" y="577.6" text-anchor="middle">550</text>
<text x="405.7" y="577.6" text-anchor="middle">600</text>
<text x="488.5" y="577.6" text-anchor="middle">650</text>
<text x="571.3" y="577.6" text-anchor="middle">700</text>
<text x="654.1" y="577.6" text-anchor="middle">750</text>
<text x="141.4" y="541.6" text-anchor="end">0</text>
<text x="141.4" y="422.7" text-anchor="end">10</text>
<text x="141.4" y="303.8" text-anchor="end">20</text>
<text x="141.4" y="184.8" text-anchor="end">30</text>
<text x="141.4" y="65.9" text-anchor="end">40</text>
</g>
<text y="624.5" font-size="40.5" fill="#000"><tspan class="ser" font-size="40.5" x="334.3">λ</tspan><tspan font-size="27" dy="7" x="355">PR</tspan><tspan dy="-7" x="394.3" letter-spacing="0.35">(nm)</tspan></text>
<text transform="translate(76,350.5) rotate(-90)" font-size="41.5" fill="#000"><tspan class="ser">τ</tspan> (ps)</text>
<g stroke="#bdbdbd" stroke-width="1.4" fill="none">
<rect x="762.5" y="68.9" width="451.8" height="349.5"/>
<line x1="807.7" y1="418.4" x2="807.7" y2="414.9"/>
<line x1="807.7" y1="68.9" x2="807.7" y2="72.4"/>
<line x1="852.9" y1="418.4" x2="852.9" y2="411.4"/>
<line x1="852.9" y1="68.9" x2="852.9" y2="75.9"/>
<line x1="898.0" y1="418.4" x2="898.0" y2="414.9"/>
<line x1="898.0" y1="68.9" x2="898.0" y2="72.4"/>
<line x1="943.2" y1="418.4" x2="943.2" y2="411.4"/>
<line x1="943.2" y1="68.9" x2="943.2" y2="75.9"/>
<line x1="988.4" y1="418.4" x2="988.4" y2="414.9"/>
<line x1="988.4" y1="68.9" x2="988.4" y2="72.4"/>
<line x1="1033.6" y1="418.4" x2="1033.6" y2="411.4"/>
<line x1="1033.6" y1="68.9" x2="1033.6" y2="75.9"/>
<line x1="1078.8" y1="418.4" x2="1078.8" y2="414.9"/>
<line x1="1078.8" y1="68.9" x2="1078.8" y2="72.4"/>
<line x1="1123.9" y1="418.4" x2="1123.9" y2="411.4"/>
<line x1="1123.9" y1="68.9" x2="1123.9" y2="75.9"/>
<line x1="1169.1" y1="418.4" x2="1169.1" y2="414.9"/>
<line x1="1169.1" y1="68.9" x2="1169.1" y2="72.4"/>
<line x1="762.5" y1="331.0" x2="766.0" y2="331.0"/>
<line x1="1214.3" y1="331.0" x2="1210.8" y2="331.0"/>
<line x1="762.5" y1="243.6" x2="769.5" y2="243.6"/>
<line x1="1214.3" y1="243.6" x2="1207.3" y2="243.6"/>
<line x1="762.5" y1="156.3" x2="766.0" y2="156.3"/>
<line x1="1214.3" y1="156.3" x2="1210.8" y2="156.3"/>
</g>
<g font-size="31" fill="#b3b3b3">
<text x="761.7" y="449.5" text-anchor="middle">-1.0</text>
<text x="852.1" y="449.5" text-anchor="middle">-0.5</text>
<text x="943.2" y="449.5" text-anchor="middle">0.0</text>
<text x="1033.6" y="449.5" text-anchor="middle">0.5</text>
<text x="1123.9" y="449.5" text-anchor="middle">1.0</text>
<text x="1214.3" y="449.5" text-anchor="middle">1.5</text>
<text x="754.5" y="427.8" text-anchor="end">-0.5</text>
<text x="754.5" y="253.0" text-anchor="end">0.0</text>
<text x="754.5" y="78.3" text-anchor="end">0.5</text>
<text x="988.3" y="487.4" text-anchor="middle" font-size="30.6" letter-spacing="0.4">V (Volts)</text>
<text transform="translate(692.7,281.5) rotate(-90)" font-size="29.5">I (mA)</text>
</g>
<clipPath id="rc"><rect x="762.5" y="68.2" width="451.8" height="350.2"/></clipPath>
<path d="M762.6 245.7C765.5 245.6 774.4 245.2 780.0 245.0C785.6 244.8 790.2 244.5 796.0 244.3C801.8 244.1 808.8 243.9 815.0 243.7C821.2 243.5 829.0 243.2 833.0 243.2C837.0 243.2 836.9 243.5 839.0 243.8C841.1 244.2 842.7 245.1 845.4 245.3C848.1 245.5 850.2 245.2 855.0 245.2C859.8 245.1 870.2 245.1 874.0 245.0C877.8 244.9 876.6 244.6 878.0 244.4C879.4 244.2 878.9 243.7 882.4 243.6C885.9 243.5 894.9 243.4 899.0 243.6C903.1 243.8 903.5 244.5 907.0 244.7C910.5 244.9 915.2 244.7 920.0 244.6C924.8 244.5 930.2 244.5 936.0 244.3C941.8 244.1 949.2 243.8 955.0 243.5C960.8 243.2 964.7 242.9 970.8 242.6C976.9 242.3 984.8 242.1 991.4 241.6C998.0 241.1 1005.0 240.4 1010.6 239.7C1016.2 239.0 1020.0 238.2 1025.0 237.2C1030.0 236.2 1035.7 235.1 1040.9 233.6C1046.1 232.1 1051.0 230.4 1056.0 228.4C1061.0 226.4 1066.1 224.1 1071.2 221.5C1076.3 218.9 1081.4 216.0 1086.4 212.6C1091.5 209.2 1096.5 205.4 1101.5 200.9C1106.5 196.4 1111.7 191.2 1116.7 185.8C1121.8 180.4 1126.8 174.4 1131.8 168.5C1136.8 162.6 1142.0 156.8 1147.0 150.6C1152.0 144.4 1157.0 137.8 1162.1 131.2C1167.1 124.6 1172.2 117.7 1177.3 110.9C1182.3 104.1 1187.4 97.0 1192.4 90.3C1197.5 83.5 1204.8 74.1 1207.6 70.4C1210.4 66.8 1208.9 68.7 1209.2 68.4" fill="none" stroke="#de0b0b" stroke-width="3.7" stroke-linejoin="round" clip-path="url(#rc)"/>
<g>
<rect x="913.1" y="374.2" width="126.8" height="30.4" fill="#a6a6a6"/>
<rect x="913.1" y="363.3" width="126.8" height="11.2" fill="#ffc000"/>
<rect x="913.6" y="355.4" width="110.8" height="8" fill="#a9d18e"/>
<rect x="912.6" y="352.4" width="109.4" height="3.2" fill="#2e75b6"/>
<rect x="914.4" y="343.4" width="93.5" height="9.1" fill="#c800c8"/>
<rect x="941.4" y="338.9" width="34.8" height="4.7" fill="#fcb414"/>
<g fill="none" stroke="#a6a6a6" stroke-width="1.9">
<path d="M961.3 338.9V322.4M961.3 292.2V273.2H995.5M999.4 273.2H1033.4V363.3"/>
<line x1="995.5" y1="259.8" x2="995.5" y2="289.2"/>
<line x1="999.4" y1="266.7" x2="999.4" y2="280.9" stroke-width="2.2"/>
<circle cx="961.3" cy="307.3" r="15" stroke-width="1.5" fill="#fff"/>
</g>
<text x="961.3" y="314" font-size="18.5" fill="#a0a0a0" text-anchor="middle">A</text>
<text x="949.2" y="396.3" font-size="18" fill="#fff" textLength="32.2" lengthAdjust="spacingAndGlyphs">SLG</text>
<text x="889.9" y="334.5" font-size="16.5" font-weight="bold" fill="#c800c8" textLength="49" lengthAdjust="spacingAndGlyphs">p-CuI</text>
<text x="867.5" y="359.5" font-size="18.6" font-weight="bold" fill="#2e75b6" textLength="39.5" lengthAdjust="spacingAndGlyphs">TiO<tspan font-size="12" dy="4">2</tspan></text>
<text x="1047" y="363.3" font-size="18" font-weight="bold" fill="#a9d18e" textLength="66" lengthAdjust="spacingAndGlyphs">n-Cu<tspan font-size="11.5" dy="4">3</tspan><tspan dy="-4">N</tspan></text>
</g>
</svg>
</body></html>
